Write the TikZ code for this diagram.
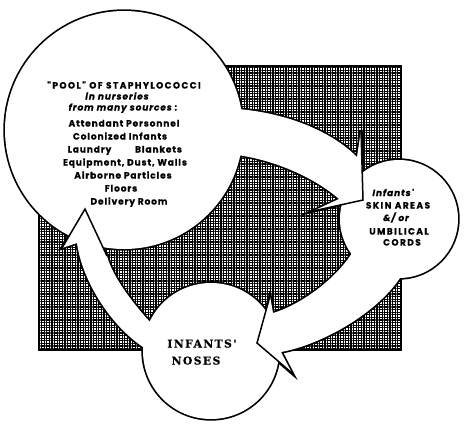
\documentclass[tikz,border=0pt]{standalone}
\usepackage{fontspec}
\newfontfamily\poolfont{Poppins}[LetterSpace=10, BoldFeatures={FakeBold=0.8}, BoldItalicFeatures={FakeBold=0.8}]
\newfontfamily\capsfont{Poppins}[LetterSpace=16, BoldFeatures={FakeBold=0.8}]
\newfontfamily\nosefont{DejaVu Serif}[LetterSpace=13, BoldFeatures={FakeBold=0.6}]
\usetikzlibrary{patterns.meta}
\begin{document}
\begin{tikzpicture}[x=1pt,y=-1pt,
  sanstxt/.style={font=\poolfont\bfseries\fontsize{9}{11}\selectfont, inner sep=0pt, anchor=base},
  capstxt/.style={font=\capsfont\bfseries\fontsize{9}{11}\selectfont, inner sep=0pt, anchor=base},
  itxt/.style={font=\poolfont\bfseries\itshape\fontsize{9}{11}\selectfont, inner sep=0pt, anchor=base},
  serftxt/.style={font=\nosefont\bfseries\fontsize{10.8}{12}\selectfont, inner sep=0pt, anchor=base},
  outline/.style={draw=black, line width=3.4pt, line join=miter},
  whitefill/.style={fill=white, draw=none},
  tipedge/.style={draw=black, line width=1.5pt, line join=miter},
  hatch/.style={pattern={Hatch[angle=0,distance=2.6pt,line width=1.05pt]}, pattern color=black}]
\useasboundingbox (0,0) rectangle (474,424);
\fill[white] (0,0) rectangle (474,424);
% hatched square
\fill[hatch] (39,66) rectangle (401,350);
\draw[line width=1.5pt] (39,66) rectangle (401,350);
% shapes
\def\poolshape{(124,130) circle[radius=119]}
\def\skinshape{(399,219) circle[radius=59]}
\def\noseshape{(211,351) circle[radius=68]}
\def\arrowA{(200,112) -- (238,109) .. controls (285,113) and (330,130) .. (357,157) -- (361,130) -- (363,200) -- (313,211) -- (339,199) .. controls (315,178) and (275,160) .. (237,155) -- (200,150) -- cycle}
\def\arrowB{(385,245) -- (352,253) .. controls (335,280) and (300,305) .. (273,313) -- (270,296) -- (257,343) -- (292,373) -- (281,352) .. controls (320,345) and (375,315) .. (400,278) -- (395,250) -- cycle}
\def\arrowC{(170,335) -- (150,322) .. controls (130,300) and (112,275) .. (107,256) -- (85,209) -- (62,248) -- (77,243) .. controls (82,280) and (110,325) .. (143,347) -- (170,350) -- cycle}
\path[outline] \poolshape;
\path[outline] \skinshape;
\path[outline] \noseshape;
\path[outline] \arrowA;
\path[outline] \arrowB;
\path[outline] \arrowC;
\path[whitefill] \poolshape;
\path[whitefill] \skinshape;
\path[whitefill] \noseshape;
\path[whitefill] \arrowA;
\path[whitefill] \arrowB;
\path[whitefill] \arrowC;
% arrow head front edges
\coordinate (a1u) at (361,130); \coordinate (a1t) at (363,200); \coordinate (a1l) at (313,211);
\coordinate (a2u) at (270,296); \coordinate (a2t) at (257,343); \coordinate (a2l) at (292,373);
\coordinate (a3l) at (62,248);  \coordinate (a3t) at (85,209);  \coordinate (a3r) at (107,256);
\draw[tipedge] (a1u) -- (a1t) -- (a1l);
\draw[tipedge] (a2u) -- (a2t) -- (a2l);
\draw[tipedge] (a3l) -- (a3t) -- (a3r);
% pool text
\node[capstxt] (p1) at (124,88.5) {"POOL" OF STAPHYLOCOCCI};
\node[itxt] (p2) at (117,99.5) {in nurseries};
\node[itxt] (p3) at (123,110.5) {from many sources :};
\node[sanstxt] (p4) at (124,126.5) {Attendant Personnel};
\node[sanstxt] (p5) at (120,139.5) {Colonized Infants};
\node[sanstxt] (p6a) at (89.5,152.5) {Laundry};
\node[sanstxt] (p6b) at (158.5,152.5) {Blankets};
\node[sanstxt] (p7) at (125,165.5) {Equipment, Dust, Walls};
\node[sanstxt] (p8) at (123,178.5) {Airborne Particles};
\node[sanstxt] (p9) at (121,191.5) {Floors};
\node[sanstxt] (p10) at (129,204.5) {Delivery Room};
% skin text
\node[itxt] (s1) at (393,196) {Infants'};
\node[capstxt] (s2) at (398,208.5) {SKIN AREAS};
\node[itxt] (s3) at (396,221) {\&/ or};
\node[capstxt] (s4) at (399,234.5) {UMBILICAL};
\node[capstxt] (s5) at (402,245.5) {CORDS};
% nose text
\node[serftxt] (n1) at (202,347.5) {INFANTS'};
\node[serftxt] (n2) at (196,364.5) {NOSES};
\end{tikzpicture}
\end{document}
